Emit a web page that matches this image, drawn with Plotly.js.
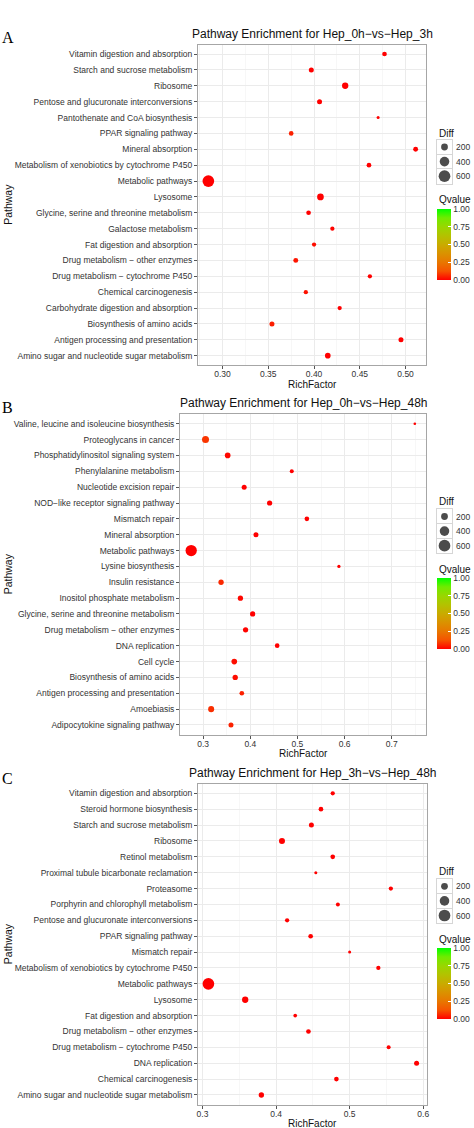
<!DOCTYPE html>
<html>
<head>
<meta charset="utf-8">
<script src="https://cdn.plot.ly/plotly-3.0.1.min.js"></script>
<style>html,body{margin:0;padding:0;background:#fff;}#chart{width:474px;height:1128px;}</style>
</head>
<body>
<div id="chart"></div>
<script>
// ---------------- DATA ----------------
const titleA = "Pathway Enrichment for Hep_0h\u2212vs\u2212Hep_3h";
const titleB = "Pathway Enrichment for Hep_0h\u2212vs\u2212Hep_48h";
const titleC = "Pathway Enrichment for Hep_3h\u2212vs\u2212Hep_48h";

// Panel A (listed top to bottom)
const pathwaysA = ["Vitamin digestion and absorption","Starch and sucrose metabolism","Ribosome","Pentose and glucuronate interconversions","Pantothenate and CoA biosynthesis","PPAR signaling pathway","Mineral absorption","Metabolism of xenobiotics by cytochrome P450","Metabolic pathways","Lysosome","Glycine, serine and threonine metabolism","Galactose metabolism","Fat digestion and absorption","Drug metabolism \u2212 other enzymes","Drug metabolism \u2212 cytochrome P450","Chemical carcinogenesis","Carbohydrate digestion and absorption","Biosynthesis of amino acids","Antigen processing and presentation","Amino sugar and nucleotide sugar metabolism"];
const richA = [0.477,0.397,0.434,0.406,0.470,0.375,0.511,0.460,0.2845,0.407,0.394,0.420,0.400,0.380,0.461,0.391,0.428,0.354,0.495,0.415];
const diffA = [95,110,175,110,40,95,105,95,600,195,95,80,80,105,80,80,80,110,110,140];
const qA = [0,0,0,0,0,0.05,0,0,0,0,0,0.005,0.02,0.03,0,0.025,0,0.045,0,0];

// Panel B
const pathwaysB = ["Valine, leucine and isoleucine biosynthesis","Proteoglycans in cancer","Phosphatidylinositol signaling system","Phenylalanine metabolism","Nucleotide excision repair","NOD\u2212like receptor signaling pathway","Mismatch repair","Mineral absorption","Metabolic pathways","Lysine biosynthesis","Insulin resistance","Inositol phosphate metabolism","Glycine, serine and threonine metabolism","Drug metabolism \u2212 other enzymes","DNA replication","Cell cycle","Biosynthesis of amino acids","Antigen processing and presentation","Amoebiasis","Adipocytokine signaling pathway"];
const richB = [0.749,0.305,0.352,0.488,0.387,0.441,0.520,0.412,0.2746,0.588,0.338,0.379,0.405,0.390,0.457,0.366,0.368,0.382,0.317,0.359];
const diffB = [30,215,140,70,110,120,95,110,560,48,125,120,120,120,95,140,125,95,160,110];
const qB = [0,0.08,0.01,0,0,0,0,0,0,0,0.06,0.01,0,0.005,0,0.02,0.02,0.05,0.07,0.05];

// Panel C
const pathwaysC = ["Vitamin digestion and absorption","Steroid hormone biosynthesis","Starch and sucrose metabolism","Ribosome","Retinol metabolism","Proximal tubule bicarbonate reclamation","Proteasome","Porphyrin and chlorophyll metabolism","Pentose and glucuronate interconversions","PPAR signaling pathway","Mismatch repair","Metabolism of xenobiotics by cytochrome P450","Metabolic pathways","Lysosome","Fat digestion and absorption","Drug metabolism \u2212 other enzymes","Drug metabolism \u2212 cytochrome P450","DNA replication","Chemical carcinogenesis","Amino sugar and nucleotide sugar metabolism"];
const richC = [0.477,0.461,0.448,0.408,0.477,0.454,0.556,0.484,0.415,0.447,0.500,0.539,0.308,0.358,0.426,0.444,0.553,0.591,0.482,0.380];
const diffC = [80,95,110,160,95,40,80,70,80,95,40,80,600,175,60,95,70,110,95,125];
const qC = [0,0,0,0,0,0,0,0,0,0,0,0,0,0,0,0,0,0,0,0];

// legend values
const diffLegend = [200,400,600];
const qTicks = [0,0.25,0.5,0.75,1];

// ---------------- STYLE / LAYOUT ----------------
const W = 474, H = 1128;
const xp = px => px / W;
const yp = py => 1 - py / H;
const FONT = "Liberation Sans, Arial, Helvetica, sans-serif";
const SERIF = "Liberation Serif, Times New Roman, serif";
const TXT = "#333333";
const sizeref = 2 * 600 / (11.7 * 11.7);
const colorscale = [[0,'#FF0000'],[0.125,'rgb(245,83,0)'],[0.25,'rgb(232,119,0)'],[0.375,'rgb(218,146,0)'],[0.5,'rgb(201,171,0)'],[0.625,'rgb(179,194,0)'],[0.75,'rgb(152,215,0)'],[0.875,'rgb(112,235,0)'],[1,'#00FF00']];

const panels = [
  {cats: pathwaysA, x: richA, s: diffA, q: qA, title: titleA, letter: "A",
   L: 198, R: 426, T: 44.5, B: 365.2, dtick: 0.05, fmt: '.2f', titleY: 34, letterY: 38, rfY: 384,
   diffY: 133, keyY: 147, qY: 199.5, barT: 209, barB: 280},
  {cats: pathwaysB, x: richB, s: diffB, q: qB, title: titleB, letter: "B",
   L: 180, R: 426, T: 414.2, B: 734.5, dtick: 0.1, fmt: '.1f', titleY: 403, letterY: 408, rfY: 753.5,
   diffY: 501.7, keyY: 516.5, qY: 569.5, barT: 578, barB: 649},
  {cats: pathwaysC, x: richC, s: diffC, q: qC, title: titleC, letter: "C",
   L: 198, R: 427, T: 783.8, B: 1104.5, dtick: 0.1, fmt: '.1f', titleY: 773, letterY: 778, rfY: 1123.5,
   diffY: 871.7, keyY: 886.3, qY: 939, barT: 948, barB: 1019}
];

const data = [];
const layout = {
  width: W, height: H,
  margin: {l: 0, r: 0, t: 0, b: 0},
  paper_bgcolor: '#fff', plot_bgcolor: '#fff',
  showlegend: false,
  font: {family: FONT, color: TXT},
  annotations: [], shapes: []
};

panels.forEach((p, i) => {
  const n = i + 1;
  const sx = n === 1 ? '' : String(n);
  const xa = 'xaxis' + sx, ya = 'yaxis' + sx;
  const ca = n === 1 ? 'coloraxis' : 'coloraxis' + n;
  data.push({
    type: 'scatter', mode: 'markers',
    x: p.x, y: p.cats,
    xaxis: 'x' + sx, yaxis: 'y' + sx,
    marker: {size: p.s, sizemode: 'area', sizeref: sizeref, color: p.q, coloraxis: ca, line: {width: 0}, opacity: 1},
    hoverinfo: 'x+y'
  });
  const mn = Math.min(...p.x), mx = Math.max(...p.x), ex = (mx - mn) * 0.05;
  layout[xa] = {
    domain: [xp(p.L), xp(p.R)], anchor: 'y' + sx,
    range: [mn - ex, mx + ex],
    tickmode: 'linear', tick0: 0, dtick: p.dtick, tickformat: p.fmt,
    showgrid: true, gridcolor: '#EBEBEB', gridwidth: 1,
    minor: {tick0: 0, dtick: p.dtick / 2, showgrid: true, gridcolor: '#F2F2F2', gridwidth: 0.6, ticks: ''},
    zeroline: false,
    showline: true, mirror: true, linecolor: '#A6A6A6', linewidth: 1,
    ticks: 'outside', ticklen: 3, tickcolor: '#555', tickwidth: 1,
    ticklabelstandoff: -2,
    tickfont: {size: 8.5, family: FONT, color: TXT}
  };
  layout[ya] = {
    domain: [yp(p.B), yp(p.T)], anchor: 'x' + sx,
    type: 'category', categoryorder: 'array', categoryarray: p.cats.slice().reverse(),
    range: [-0.6, p.cats.length - 0.4],
    showgrid: true, gridcolor: '#EBEBEB', gridwidth: 1,
    zeroline: false,
    showline: true, mirror: true, linecolor: '#A6A6A6', linewidth: 1,
    ticks: 'outside', ticklen: 3, tickcolor: '#555', tickwidth: 1,
    tickfont: {size: 8.5, family: FONT, color: TXT}
  };
  // colour axis / colorbar
  layout[ca] = {
    cmin: 0, cmax: 1, colorscale: colorscale,
    colorbar: {
      x: xp(437.3), xanchor: 'left', xpad: 0, ypad: 0,
      y: yp((p.barT + p.barB) / 2), yanchor: 'middle',
      len: p.barB - p.barT, lenmode: 'pixels', thickness: 14.4, thicknessmode: 'pixels',
      outlinewidth: 0, tickmode: 'array', tickvals: qTicks, tickformat: '.2f',
      ticks: 'inside', ticklen: 3, tickcolor: '#fff', tickwidth: 1,
      tickfont: {size: 8.5, family: FONT, color: TXT}
    }
  };
  // size legend (Diff) on its own small axes
  const ln = n + 3;
  const lx = 'xaxis' + ln, ly = 'yaxis' + ln;
  const keyH = 14.6;
  const kTop = p.keyY - keyH / 2, kBot = kTop + keyH * 3;
  layout[lx] = {domain: [xp(437.3), xp(451.7)], anchor: 'y' + ln, range: [-1, 1], showgrid: false, zeroline: false,
    showticklabels: false, ticks: '', showline: true, mirror: true, linecolor: '#D6D6D6', linewidth: 1, fixedrange: true};
  layout[ly] = {domain: [yp(kBot), yp(kTop)], anchor: 'x' + ln, range: [-0.5, 2.5], showgrid: true,
    tickmode: 'array', tickvals: [0.5, 1.5], gridcolor: '#D6D6D6', gridwidth: 1, zeroline: false,
    showticklabels: false, ticks: '', showline: true, mirror: true, linecolor: '#D6D6D6', linewidth: 1, fixedrange: true};
  const ys = diffLegend.map((v, k) => diffLegend.length - 1 - k);
  data.push({
    type: 'scatter', mode: 'markers', x: diffLegend.map(() => 0), y: ys,
    xaxis: 'x' + ln, yaxis: 'y' + ln,
    marker: {size: diffLegend, sizemode: 'area', sizeref: sizeref, color: '#000', line: {width: 0}},
    hoverinfo: 'skip', cliponaxis: false
  });
  diffLegend.forEach((v, k) => {
    layout.annotations.push({xref: 'x' + ln, yref: 'y' + ln, x: 1, y: ys[k], xanchor: 'left', yanchor: 'middle',
      xshift: 2, text: String(v), showarrow: false, font: {size: 8.5, family: FONT, color: TXT}});
  });
  // texts
  const cx = xp((p.L + p.R) / 2);
  layout.annotations.push(
    {xref: 'paper', yref: 'paper', x: cx, y: yp(p.titleY), xanchor: 'center', yanchor: 'middle', showarrow: false,
     text: p.title, font: {size: 12, family: FONT, color: '#111'}},
    {xref: 'paper', yref: 'paper', x: xp(0), y: yp(p.letterY), xanchor: 'left', yanchor: 'middle', showarrow: false,
     text: p.letter, font: {size: 16, family: SERIF, color: '#000'}},
    {xref: 'paper', yref: 'paper', x: cx, y: yp(p.rfY), xanchor: 'center', yanchor: 'middle', showarrow: false,
     text: 'RichFactor', font: {size: 10, family: FONT, color: '#111'}},
    {xref: 'paper', yref: 'paper', x: xp(8), y: yp((p.T + p.B) / 2), xanchor: 'center', yanchor: 'middle', showarrow: false,
     text: 'Pathway', textangle: -90, font: {size: 10.5, family: FONT, color: '#111'}},
    {xref: 'paper', yref: 'paper', x: xp(437.3), y: yp(p.diffY), xanchor: 'left', yanchor: 'middle', showarrow: false,
     text: 'Diff', font: {size: 10, family: FONT, color: '#111'}},
    {xref: 'paper', yref: 'paper', x: xp(437.3), y: yp(p.qY), xanchor: 'left', yanchor: 'middle', showarrow: false,
     text: 'Qvalue', font: {size: 10, family: FONT, color: '#111'}}
  );
});

Plotly.newPlot('chart', data, layout, {staticPlot: true, displayModeBar: false});
</script>
</body>
</html>
